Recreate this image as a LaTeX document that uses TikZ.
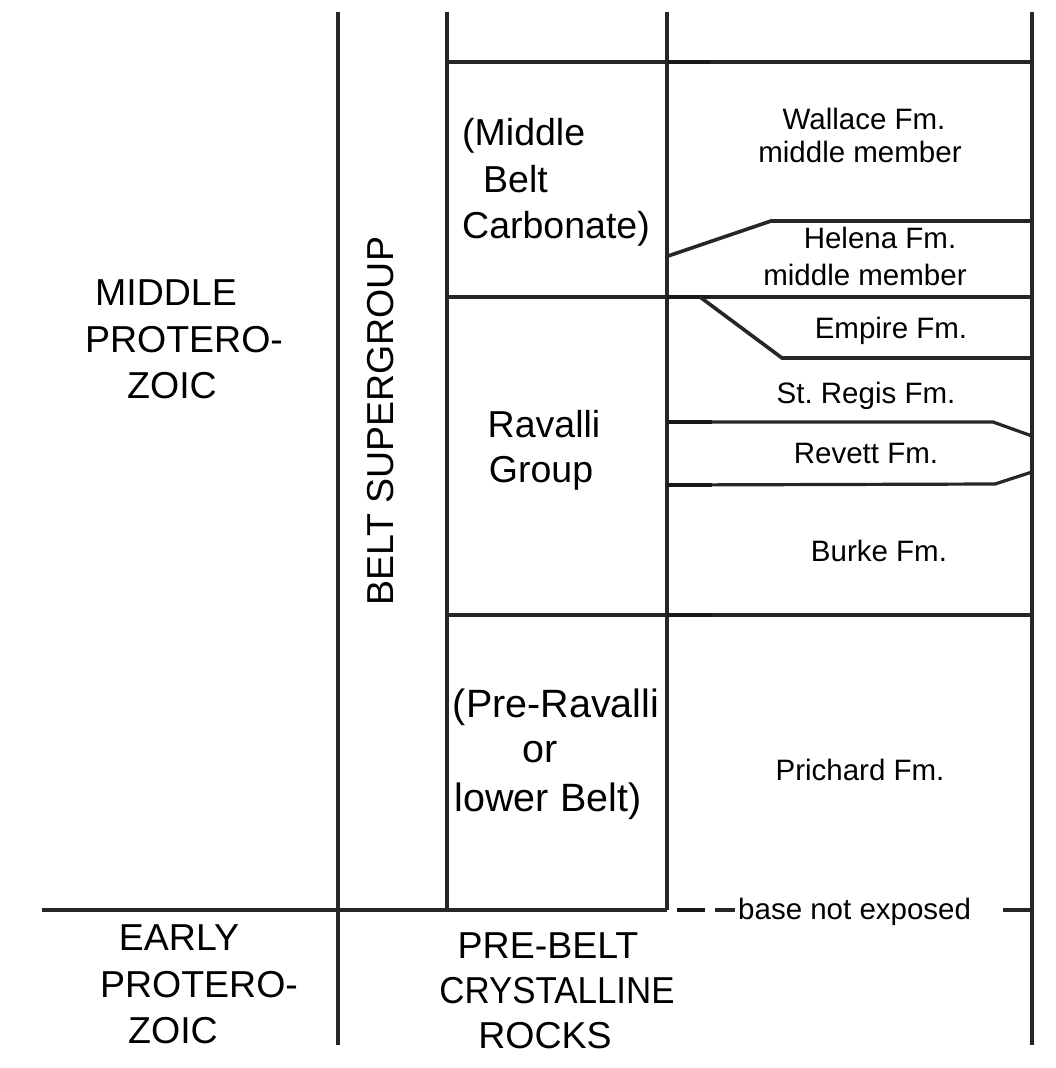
\documentclass[tikz,border=0pt]{standalone}
\usepackage{fontspec}
\setmainfont{Liberation Sans}
\frenchspacing
\begin{document}
\begin{tikzpicture}[x=1pt,y=-1pt,
  rule/.style={line width=3.2pt,black!85},
  thickrule/.style={line width=4.6pt,black!90},
  bigtxt/.style={inner sep=0pt,anchor=base,font=\fontsize{37.5}{44}\selectfont,text=black},
  coltxt/.style={inner sep=0pt,anchor=base,font=\fontsize{37.5}{44}\selectfont,text=black},
  pretxt/.style={inner sep=0pt,anchor=base,font=\fontsize{39.5}{46}\selectfont,text=black},
  fmtxt/.style={inner sep=0pt,anchor=base,font=\fontsize{29.5}{35}\selectfont,text=black}]
\useasboundingbox (0,0) rectangle (1055,1068);
% coordinates
\coordinate (aT) at (338,12);  \coordinate (aB) at (338,1045);
\coordinate (bT) at (447,12);  \coordinate (bB) at (447,910);
\coordinate (cT) at (667,12);  \coordinate (cB) at (667,910);
\coordinate (dT) at (1032,12); \coordinate (dB) at (1032,1045);
\coordinate (h1L) at (447,62);  \coordinate (h1R) at (1032,62);
\coordinate (h2L) at (447,297); \coordinate (h2R) at (1032,297);
\coordinate (h3L) at (447,615); \coordinate (h3R) at (1032,615);
\coordinate (h4L) at (42,910);  \coordinate (h4R) at (667,910);
% main grid
\draw[rule] (aT) -- (aB);
\draw[rule] (bT) -- (bB);
\draw[rule] (cT) -- (cB);
\draw[rule] (dT) -- (dB);
\draw[rule] (h1L) -- (h1R);
\draw[rule] (h2L) -- (h2R);
\draw[rule] (h3L) -- (h3R);
\draw[rule] (h4L) -- (h4R);
\draw[thickrule] (667,62) -- (710,62);
\draw[thickrule] (667,297) -- (710,297);
\draw[thickrule] (667,615) -- (712,615);
% formation boundaries
\coordinate (heA) at (668,256); \coordinate (heB) at (771,221); \coordinate (heC) at (1032,221);
\draw[rule,line width=3.6pt] (heA) -- (heB) -- (heC);
\coordinate (emA) at (700,297); \coordinate (emB) at (782,358); \coordinate (emC) at (1032,358);
\draw[rule,line width=3.6pt] (emA) -- (emB) -- (emC);
\coordinate (rtA) at (667,422); \coordinate (rtB) at (993,422); \coordinate (rtC) at (1032,436);
\draw[rule] (rtA) -- (rtB) -- (rtC);
\coordinate (rbA) at (667,485); \coordinate (rbB) at (995,484); \coordinate (rbC) at (1032,472);
\draw[rule] (rbA) -- (rbB) -- (rbC);
\draw[thickrule] (667,422) -- (712,422);
\draw[thickrule] (667,485) -- (712,485);
% base not exposed dashes
\coordinate (ds1a) at (677,910); \coordinate (ds1b) at (705,910);
\coordinate (ds2a) at (715,910); \coordinate (ds2b) at (735,910);
\coordinate (ds3a) at (1003,910); \coordinate (ds3b) at (1032,910);
\draw[thickrule] (ds1a) -- (ds1b);
\draw[rule] (ds2a) -- (ds2b);
\draw[rule] (ds3a) -- (ds3b);
% left labels
\node[bigtxt] (mp1) at (166,305) {MIDDLE};
\node[bigtxt] (mp2) at (184,352) {PROTERO-};
\node[bigtxt] (mp3) at (172,398) {ZOIC};
\node[bigtxt] (ep1) at (179,950) {EARLY};
\node[bigtxt] (ep2) at (199,997) {PROTERO-};
\node[bigtxt] (ep3) at (173,1043) {ZOIC};
\node[bigtxt,rotate=90,anchor=center] (belt) at (381,421) {BELT SUPERGROUP};
% group labels
\node[coltxt,anchor=base west] (mb1) at (462,145) {(Middle};
\node[coltxt,anchor=base west] (mb2) at (483,192) {Belt};
\node[coltxt,anchor=base west] (mb3) at (462,238) {Carbonate)};
\node[coltxt] (rg1) at (544,437) {Ravalli};
\node[coltxt] (rg2) at (541,482) {Group};
\node[pretxt] (pr1) at (556,717) {(Pre-Ravalli};
\node[pretxt] (pr2) at (540,762) {or};
\node[pretxt] (pr3) at (548,811) {lower Belt)};
\node[bigtxt] (pb1) at (548,958) {PRE-BELT};
\node[bigtxt,xscale=0.93] (pb2) at (557,1003) {CRYSTALLINE};
\node[bigtxt] (pb3) at (545,1048) {ROCKS};
% formations
\node[fmtxt] (wa1) at (864,129) {Wallace Fm.};
\node[fmtxt] (wa2) at (860,162) {middle member};
\node[fmtxt] (he1) at (880,248) {Helena Fm.};
\node[fmtxt] (he2) at (865,285) {middle member};
\node[fmtxt] (em) at (891,338) {Empire Fm.};
\node[fmtxt] (sr) at (866,403) {St. Regis Fm.};
\node[fmtxt] (rv) at (866,463) {Revett Fm.};
\node[fmtxt] (bk) at (879,561) {Burke Fm.};
\node[fmtxt] (pf) at (860,780) {Prichard Fm.};
\node[fmtxt,anchor=base west] (bne) at (738,919) {base not exposed};
\end{tikzpicture}
\end{document}
